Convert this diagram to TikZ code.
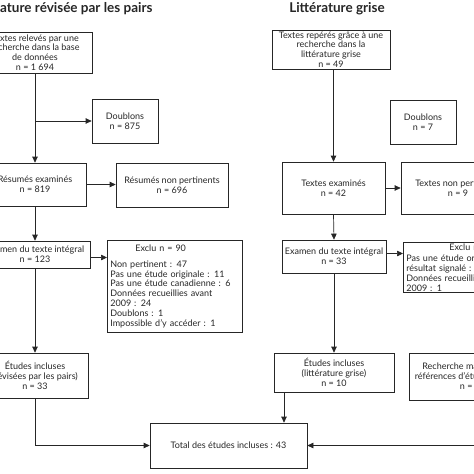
\documentclass[tikz,border=0pt]{standalone}
\usepackage{fontspec}
\setmainfont{Lato}
\usetikzlibrary{arrows.meta, positioning, calc}
\definecolor{inkline}{HTML}{262626}
\tikzset{
  flowbox/.style={draw=inkline, line width=0.7pt, align=center, inner sep=1pt,
    text=inkline, font=\fontsize{9}{9.8}\selectfont},
  flowarrow/.style={draw=inkline, line width=0.7pt,
    -{Triangle[length=6pt, width=5.5pt]}},
  coltitle/.style={text=inkline, font=\fontsize{13.5}{15}\selectfont\bfseries},
}

\begin{document}
\begin{tikzpicture}[x=1pt, y=-1pt]
  \useasboundingbox (0,0) rectangle (474,474);
  \clip (0,0) rectangle (474,474);

  \node[coltitle, anchor=east] (titlepeer) at (156,9) {Littérature révisée par les pairs};
  \node[coltitle] (titlegrey) at (337,9) {Littérature grise};

  \node[flowbox, minimum width=114pt, minimum height=41pt] (peerfound) at (35,52.5)
    {Textes relevés par une\\recherche dans la base\\de données\\n = 1 694};
  \node[flowbox, minimum width=66pt, minimum height=44pt] (peerdup) at (125,121)
    {Doublons\\n = 875};
  \node[flowbox, minimum width=102pt, minimum height=43pt] (peerabs) at (35,184.5)
    {Résumés examinés\\n = 819};
  \node[flowbox, minimum width=112pt, minimum height=44pt] (peernot) at (172,185)
    {Résumés non pertinents\\n = 696};
  \node[flowbox, minimum width=110pt, minimum height=27pt] (peerfull) at (35,254.5)
    {Examen du texte intégral\\n = 123};
  \node[flowbox, anchor=north west, align=left, text width=129pt, minimum height=92pt,
    inner xsep=3pt] (peerexcl) at (107,240)
    {\hspace*{25pt}Exclu n = 90\\[6pt]Non pertinent : 47\\Pas une étude originale : 11\\
     Pas une étude canadienne : 6\\Données recueillies avant\\2009 : 24\\Doublons : 1\\
     Impossible d'y accéder : 1};
  \node[flowbox, minimum width=106pt, minimum height=45pt] (peerinc) at (35,375.5)
    {Études incluses\\(révisées par les pairs)\\n = 33};

  \node[flowbox, minimum width=118pt, minimum height=39pt] (greyfound) at (331,49.5)
    {Textes repérés grâce à une\\recherche dans la\\littérature grise\\n = 49};
  \node[flowbox, minimum width=66pt, minimum height=44pt] (greydup) at (423,122)
    {Doublons\\n = 7};
  \node[flowbox, minimum width=103pt, minimum height=52pt] (greytext) at (333.5,188)
    {Textes examinés\\n = 42};
  \node[flowbox, minimum width=114pt, minimum height=52pt] (greynot) at (458,188)
    {Textes non pertinents\\n = 9};
  \node[flowbox, minimum width=104pt, minimum height=33pt] (greyfull) at (334,256.5)
    {Examen du texte intégral\\n = 33};
  \node[flowbox, anchor=north west, align=left, text width=160pt, minimum height=50pt,
    inner xsep=3pt] (greyexcl) at (403,242)
    {\hspace*{43pt}Exclu n = 23\\[2pt]Pas une étude originale ou aucun\\résultat signalé : 22\\
     Données recueillies avant\\2009 : 1};
  \node[flowbox, minimum width=120pt, minimum height=39pt] (greyinc) at (334,372.5)
    {Études incluses\\(littérature grise)\\n = 10};
  \node[flowbox, minimum width=122pt, minimum height=47pt] (handsearch) at (470,376.5)
    {Recherche manuelle des\\références d'études incluses\\n = 0};

  \node[flowbox, minimum width=157pt, minimum height=45pt] (total) at (228.5,445.5)
    {Total des études incluses : 43};

  \draw[flowarrow] (peerfound.south) -- (peerabs.north);
  \draw[flowarrow] (peerfound.south |- peerdup.west) -- (peerdup.west);
  \draw[flowarrow] (peerabs.east) -- (peerabs.east -| peernot.west);
  \draw[flowarrow] (peerabs.south) -- (peerfull.north);
  \draw[flowarrow] ([yshift=-3pt]peerfull.east) -- ([yshift=-3pt]peerfull.east -| peerexcl.west);
  \draw[flowarrow] (peerfull.south) -- (peerinc.north);
  \draw[flowarrow] (peerinc.south) |- (total.west);

  \draw[flowarrow] (greyfound.south -| greytext.north) -- (greytext.north);
  \draw[flowarrow] (greytext.east) -- (greytext.east -| greynot.west);
  \draw[flowarrow] (greytext.south) -- (greyfull.north);
  \draw[flowarrow] ([yshift=3pt]greyfull.east) -- ([yshift=3pt]greyfull.east -| greyexcl.west);
  \draw[flowarrow] (greyfull.south) -- (greyinc.north);
  \draw[flowarrow] ([xshift=-50pt]greyinc.south) -- ([xshift=-50pt]greyinc.south |- total.north);
  \draw[flowarrow] ([xshift=40pt]handsearch.south) |- (total.east);
\end{tikzpicture}
\end{document}
